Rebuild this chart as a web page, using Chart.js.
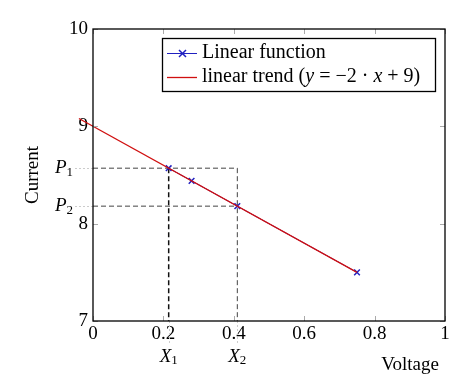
<!DOCTYPE html>
<html><head><meta charset="utf-8">
<script src="https://cdn.jsdelivr.net/npm/chart.js@4"></script>
<style>html,body{margin:0;padding:0;background:#fff}#wrap{width:474px;height:392px}</style>
</head><body><div id="wrap"><canvas id="c" width="474" height="392"></canvas></div>
<script>
// ---- data ----
const voltage = [0.215, 0.28, 0.41, 0.75];
const current = [8.57, 8.44, 8.18, 7.5];
const trendX = [-0.04, 0.75];
const trendY = [9.08, 7.5];
const markX = [0.215, 0.41];        // X1, X2
const markY = [8.57, 8.18];         // P1, P2
const markXLabels = ['X', 'X'];
const markYLabels = ['P', 'P'];
const xTicks = [0, 0.2, 0.4, 0.6, 0.8, 1];
const yTicks = [7, 8, 9, 10];
const seriesNames = ['Linear function', 'linear trend'];

const FONT = "'Liberation Serif', serif";
const FS = 19;
Chart.defaults.font.family = FONT;
Chart.defaults.font.size = FS;
Chart.defaults.color = '#000';

const pts = (xs, ys) => xs.map((x, i) => ({x, y: ys[i]}));
const dash = [5, 3];
const gridCol = '#444';

const datasets = [
  {label: seriesNames[1], data: pts(trendX, trendY), borderColor: '#d01010', borderWidth: 1.3, pointRadius: 0, showLine: true, clip: false},
  {label: seriesNames[0], data: pts(voltage, current), borderColor: '#2020c0', backgroundColor: '#2020c0', borderWidth: 1, pointStyle: 'crossRot', pointRadius: 4, pointBorderWidth: 1.5, showLine: true},
  {label: 'h1', data: pts([0, markX[1]], [markY[0], markY[0]]), borderColor: gridCol, borderWidth: 1, borderDash: dash, pointRadius: 0, showLine: true},
  {label: 'h2', data: pts([0, markX[1]], [markY[1], markY[1]]), borderColor: gridCol, borderWidth: 1, borderDash: dash, pointRadius: 0, showLine: true},
  {label: 'v1', data: pts([markX[0], markX[0]], [markY[0], yTicks[0]]), borderColor: '#111', borderWidth: 1.5, borderDash: dash, pointRadius: 0, showLine: true},
  {label: 'v2', data: pts([markX[1], markX[1]], [markY[0], yTicks[0]]), borderColor: gridCol, borderWidth: 1, borderDash: dash, pointRadius: 0, showLine: true}
];

function richText(ctx, segs, x, y, align) {
  // segs: [text, italic, size, dy]
  let total = 0;
  const widths = segs.map(s => { ctx.font = (s[1] ? 'italic ' : '') + (s[2] || FS) + 'px ' + FONT; const w = ctx.measureText(s[0]).width; total += w; return w; });
  let cx = align === 'center' ? x - total / 2 : align === 'right' ? x - total : x;
  ctx.textAlign = 'left'; ctx.textBaseline = 'middle';
  segs.forEach((s, i) => { ctx.font = (s[1] ? 'italic ' : '') + (s[2] || FS) + 'px ' + FONT; ctx.fillText(s[0], cx, y + (s[3] || 0)); cx += widths[i]; });
}

const overlay = {
  id: 'overlay',
  afterDraw(chart) {
    const ctx = chart.ctx, a = chart.chartArea, xs = chart.scales.x, ys = chart.scales.y;
    ctx.save();
    // inner ticks
    ctx.strokeStyle = '#aaa'; ctx.lineWidth = 1;
    xTicks.forEach(v => { const p = Math.round(xs.getPixelForValue(v)) + 0.5; ctx.beginPath(); ctx.moveTo(p, a.bottom); ctx.lineTo(p, a.bottom - 5); ctx.moveTo(p, a.top); ctx.lineTo(p, a.top + 5); ctx.stroke(); });
    yTicks.forEach(v => { const p = Math.round(ys.getPixelForValue(v)) + 0.5; ctx.beginPath(); ctx.moveTo(a.left, p); ctx.lineTo(a.left + 5, p); ctx.moveTo(a.right, p); ctx.lineTo(a.right - 5, p); ctx.stroke(); });
    // extra ticks (grey extensions)
    ctx.strokeStyle = '#ccc'; ctx.setLineDash([2, 2]);
    markX.forEach(v => { const p = Math.round(xs.getPixelForValue(v)) + 0.5; ctx.beginPath(); ctx.moveTo(p, a.bottom); ctx.lineTo(p, a.bottom + 22); ctx.stroke(); });
    markY.forEach(v => { const p = Math.round(ys.getPixelForValue(v)) + 0.5; ctx.beginPath(); ctx.moveTo(a.left - 18, p); ctx.lineTo(a.left, p); ctx.stroke(); });
    ctx.setLineDash([]);
    // frame
    ctx.strokeStyle = '#000'; ctx.lineWidth = 1.3;
    ctx.strokeRect(a.left, a.top, a.right - a.left, a.bottom - a.top);
    ctx.fillStyle = '#000';
    // extra labels
    markX.forEach((v, i) => richText(ctx, [[markXLabels[i], true, FS], [String(i + 1), false, 13, 4]], xs.getPixelForValue(v), 357, 'center'));
    markY.forEach((v, i) => richText(ctx, [[markYLabels[i], true, FS], [String(i + 1), false, 13, 4]], 73, ys.getPixelForValue(v), 'right'));
    // axis titles
    ctx.font = FS + 'px ' + FONT; ctx.textAlign = 'center'; ctx.textBaseline = 'middle';
    ctx.fillText('Voltage', 410, 365);
    ctx.save(); ctx.translate(33, (a.top + a.bottom) / 2); ctx.rotate(-Math.PI / 2); ctx.fillText('Current', 0, 0); ctx.restore();
    // legend
    const lx = 162, ly = 38, lw = 273, lh = 53;
    ctx.fillStyle = '#fff'; ctx.fillRect(lx, ly, lw, lh);
    ctx.strokeStyle = '#000'; ctx.lineWidth = 1.3; ctx.strokeRect(lx + 0.5, ly + 0.5, lw, lh);
    const d0 = datasets[1], d1 = datasets[0];
    ctx.strokeStyle = d0.borderColor; ctx.lineWidth = 1; ctx.beginPath(); ctx.moveTo(167, 53.5); ctx.lineTo(197, 53.5); ctx.stroke();
    ctx.lineWidth = 1.5; ctx.beginPath(); ctx.moveTo(179, 50); ctx.lineTo(186, 57); ctx.moveTo(186, 50); ctx.lineTo(179, 57); ctx.stroke();
    ctx.strokeStyle = d1.borderColor; ctx.lineWidth = 1.3; ctx.beginPath(); ctx.moveTo(167, 77.5); ctx.lineTo(197, 77.5); ctx.stroke();
    ctx.fillStyle = '#000';
    richText(ctx, [[d0.label, false, 20]], 202, 53, 'left');
    richText(ctx, [[d1.label + ' (', false, 20], ['y', true, 20], [' = \u22122 \u00b7 ', false, 20], ['x', true, 20], [' + 9)', false, 20]], 202, 77, 'left');
    ctx.restore();
  }
};

new Chart(document.getElementById('c'), {
  type: 'scatter',
  data: {datasets},
  options: {
    responsive: false, animation: false, devicePixelRatio: 1,
    layout: {padding: {top: 29, right: 29, left: 0, bottom: 0}},
    plugins: {legend: {display: false}, tooltip: {enabled: false}},
    scales: {
      x: {type: 'linear', min: 0, max: 1,
          afterFit: s => { s.height = 71; },
          afterBuildTicks: s => { s.ticks = xTicks.map(v => ({value: v})); },
          grid: {display: false, drawTicks: false}, border: {display: false},
          ticks: {padding: 2, maxRotation: 0, autoSkip: false, callback: v => String(v)}},
      y: {type: 'linear', min: 7, max: 10,
          afterFit: s => { s.width = 93; },
          afterBuildTicks: s => { s.ticks = yTicks.map(v => ({value: v})); },
          grid: {display: false, drawTicks: false}, border: {display: false},
          ticks: {padding: 5, autoSkip: false, callback: v => String(v)}}
    }
  },
  plugins: [overlay]
});
</script></body></html>
